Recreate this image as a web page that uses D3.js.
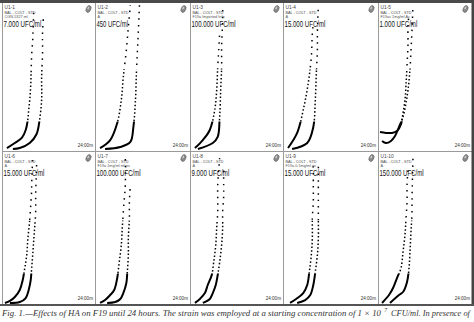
<!DOCTYPE html>
<html><head><meta charset="utf-8">
<script src="https://cdn.jsdelivr.net/npm/d3@7"></script>
<style>
html,body{margin:0;padding:0;background:#fff;}
svg{display:block;}
</style></head><body>
<svg id="c" width="474" height="322"></svg>
<script>
// ---------- data ----------
const panelIds = ["U1-1","U1-2","U1-3","U1-4","U1-5","U1-6","U1-7","U1-8","U1-9","U1-10"];
const panelSubtitle = "BAL - COLT - STD";
const panelNotes = ["CGN-5327 ml","A","F19a Imported Info","A","F19ac 1mg/ml Ac","A","F19a 1mg/ml ml ps","A","F19a 0.1mg/ml ps","A"];
const panelLabels = ["7.000 UFC/ml","450 UFC/ml","100.000 UFC/ml","15.000 UFC/ml","1.000 UFC/ml",
                     "15.000 UFC/ml","100.000 UFC/ml","9.000 UFC/ml","15.000 UFC/ml","150.000 UFC/ml"];
const timeLabel = "24:00m";
// curve points per panel: [signal (0-100), growth (0-100)]
const innerCurves = [
  [[5.3,2],[13.8,5.4],[21.3,8.8],[25.5,14.2],[27.7,21],[28.7,27.7],[29.8,34.5],[30.9,44.6],[31.4,54.7],[31.9,64.9],[33,75],[33.5,83.1],[34,93.9]],
  [[5.3,2],[16,7.4],[23.4,18.9],[27.7,34.5],[29.8,50],[33,68.2],[35.1,83.8],[37.2,98.6]],
  [[5.3,2],[13.8,7.4],[21.3,14.2],[26.6,27.7],[28.7,41.2],[29.8,56.8],[30.9,68.2],[31.9,79.7]],
  [[5.3,2],[14.9,12.2],[21.3,27.7],[26.6,46],[29.8,63.5],[30.9,79.7],[31.9,85.8]],
  [[2.1,12.8],[8.5,12.2],[14.9,12.2],[20.2,13.5],[24.5,18.2],[26.6,25.7],[28.7,34.5],[29.8,44.6],[30.9,58.1],[31.9,71.6],[31.9,85.1],[33,91.9]],
  [[3.2,0.7],[8.5,2],[13.8,4.6],[19.1,9.2],[22.3,15.8],[24.5,23.7],[26.6,32.2],[27.7,42.1],[29.8,55.3],[30.9,65.1],[31.9,75],[31.9,78.3],[33,96.7]],
  [[5.3,0.7],[10.6,2.6],[16,5.9],[20.2,9.2],[23.4,17.1],[25.5,27.6],[27.7,38.8],[28.7,50],[29.8,60.5],[30.9,69.7],[31.9,78.3],[31.9,96.7]],
  [[5.3,0.7],[10.6,3.3],[16,7.2],[19.1,12.5],[23.4,19.1],[25.5,27.6],[27.7,38.8],[28.7,50],[29.8,60.5],[29.8,69.7],[29.8,78.3],[31.9,96]],
  [[7.4,0.7],[13.8,3.3],[21.3,7.2],[25.5,12.5],[27.7,21.1],[29.8,32.2],[30.9,43.4],[30.9,56.6],[31.9,67.1],[31.9,78.3],[31.9,92.8]],
  [[4.3,0.7],[11.7,5.9],[16,10.5],[20.2,17.1],[24.5,23.7],[26.6,34.2],[28.7,45.4],[29.8,56.6],[30.9,67.1],[30.9,78.3],[31.9,88.2]]
];
const outerCurves = [
  [[11.7,1.4],[19.1,2],[29.8,5.4],[37.2,11.5],[40.4,21],[42.6,34.5],[42.6,50],[43.6,66.2],[43.6,79.7],[44.7,91.9]],
  [[10.6,1.4],[26.6,2.7],[37.2,6.1],[40.4,16.2],[42.6,34.5],[43.6,52.7],[44.7,68.2],[45.7,81.8],[46.8,98.6]],
  [[8.5,1.4],[24.5,5.4],[29.8,9.5],[31.9,23],[33,41.2],[34,56.8],[34,70.3],[35.1,88.5],[35.1,98]],
  [[9.6,1.4],[25.5,5.4],[31.9,16.2],[34,34.5],[35.1,52.7],[36.2,68.2],[36.2,79.7],[37.2,98.6]],
  [[4.3,6.8],[8.5,5.4],[13.8,6.8],[18.1,10.1],[22.3,16.2],[26.6,23],[29.8,32.4],[31.9,41.2],[34,54.7],[35.1,68.2],[36.2,81.8],[37.2,98.6]],
  [[8.5,0.7],[19.1,1.3],[25.5,3.9],[28.7,9.2],[30.9,15.8],[31.9,23.7],[33,32.2],[34,40.8],[35.1,50],[36.2,60.5],[36.2,71.7],[37.2,91.4]],
  [[12.8,0.7],[21.3,1.3],[26.6,3.3],[29.8,7.2],[33,13.8],[34,21.1],[35.1,32.2],[35.1,43.4],[36.2,56.6],[36.2,67.1],[37.2,78.3]],
  [[13.8,0.7],[21.3,3.3],[24.5,7.2],[27.7,12.5],[29.8,19.1],[31.9,27.6],[34,38.8],[35.1,50],[35.1,60.5],[36.2,70.4],[36.2,78.3],[36.2,90.8]],
  [[14.9,0.7],[23.4,2.6],[28.7,5.9],[31.9,12.5],[34,21.1],[36.2,32.2],[37.2,43.4],[37.2,56.6],[37.2,66.4],[37.2,78.3],[37.2,92.8]],
  [[12.8,0.7],[22.3,5.9],[26.6,7.9],[30.9,14.5],[33,23.7],[34,34.2],[35.1,47.4],[36.2,60.5],[36.2,68.4],[37.2,96]]
];
const captionHead = "Fig. 1.\u2014Effects of HA on F19 until 24 hours. The strain was employed at a starting concentration of 1 \u00d7 10";
const captionExp = "7";
const captionTail = "CFU/ml. In presence of";

// ---------- layout ----------
const W = 474, H = 322;
const colEdges = [2, 95, 190, 283, 378, 472];
const rowEdges = [[3, 151], [152, 304]];
const bands = [
  {lo: 0,  hi: 20,  dash: null,      w: 2.0},
  {lo: 20, hi: 55,  dash: "1.5 2.2", w: 1.5},
  {lo: 55, hi: 100, dash: "1.5 5",   w: 1.5}
];

const svg = d3.select("#c");
const defs = svg.append("defs");
svg.append("rect").attr("width", W).attr("height", H).attr("fill", "#fff");

panelIds.forEach((id, i) => {
  const c = i % 5, r = Math.floor(i / 5);
  const x0 = colEdges[c], x1 = colEdges[c + 1];
  const y0 = rowEdges[r][0], y1 = rowEdges[r][1];
  const x = d3.scaleLinear().domain([0, 100]).range([x0, x1]);
  const y = d3.scaleLinear().domain([0, 100]).range([y1, y0]);
  const line = d3.line().x(d => x(d[0])).y(d => y(d[1])).curve(d3.curveCatmullRom.alpha(0.5));
  const g = svg.append("g");

  bands.forEach((b, bi) => {
    const cid = `cl${i}_${bi}`;
    defs.append("clipPath").attr("id", cid).append("rect")
      .attr("x", x0).attr("width", x1 - x0)
      .attr("y", y(b.hi)).attr("height", y(b.lo) - y(b.hi));
    [innerCurves[i], outerCurves[i]].forEach(pts => {
      g.append("path").attr("d", line(pts))
        .attr("clip-path", `url(#${cid})`)
        .attr("fill", "none").attr("stroke", "#000")
        .attr("stroke-width", b.w)
        .attr("stroke-dasharray", b.dash);
    });
  });

  // header texts
  g.append("text").attr("x", x0 + 2.5).attr("y", y0 + 5.5)
    .attr("font-family", "Liberation Sans, sans-serif").attr("font-size", 4.8)
    .attr("fill", "#444").text(id);
  g.append("text").attr("x", x0 + 2.5).attr("y", y0 + 10.5)
    .attr("font-family", "Liberation Sans, sans-serif").attr("font-size", 4.4)
    .attr("fill", "#444").attr("textLength", 31).attr("lengthAdjust", "spacingAndGlyphs")
    .text(panelSubtitle);
  g.append("text").attr("x", x0 + 2.5).attr("y", y0 + 14.8)
    .attr("font-family", "Liberation Sans, sans-serif").attr("font-size", 3.8)
    .attr("fill", "#555").text(panelNotes[i]);
  const lab = panelLabels[i];
  g.append("text").attr("x", x0 + 1.5).attr("y", y0 + 23.5)
    .attr("font-family", "Liberation Sans Narrow, Liberation Sans, sans-serif").attr("font-size", 9.5)
    .attr("fill", "#111").attr("textLength", lab.length * 3.15).attr("lengthAdjust", "spacingAndGlyphs")
    .text(lab);

  // time label
  g.append("text").attr("x", x1 - 2).attr("y", y1 - 4.5)
    .attr("text-anchor", "end")
    .attr("font-family", "Liberation Sans, sans-serif").attr("font-size", 4.6)
    .attr("fill", "#333").text(timeLabel);

  // small flask icon top-right
  const ic = g.append("g").attr("transform", `translate(${x1 - 6.5},${y0 + 6}) rotate(25)`);
  ic.append("ellipse").attr("rx", 2.3).attr("ry", 3.6).attr("fill", "#8a8a8a").attr("stroke", "#5a5a5a").attr("stroke-width", 0.5);
  ic.append("ellipse").attr("cx", -0.6).attr("cy", -0.8).attr("rx", 0.8).attr("ry", 1.4).attr("fill", "#d0d0d0");
});

// grid separators
colEdges.slice(0, 5).forEach(cx => {
  svg.append("line").attr("x1", cx + 0.5).attr("x2", cx + 0.5).attr("y1", 3).attr("y2", 304)
    .attr("stroke", "#9a9a9a").attr("stroke-width", 1);
});
svg.append("line").attr("x1", 2).attr("x2", 472).attr("y1", 151.5).attr("y2", 151.5)
  .attr("stroke", "#9a9a9a").attr("stroke-width", 1);

// frame
svg.append("rect").attr("x", 0).attr("y", 0).attr("width", W).attr("height", 3).attr("fill", "#4a4a4a");
svg.append("rect").attr("x", 471.5).attr("y", 0).attr("width", 2.5).attr("height", 306).attr("fill", "#444");
svg.append("rect").attr("x", 0).attr("y", 304).attr("width", W).attr("height", 2).attr("fill", "#555");

// caption: three pieces, each horizontally scaled to its measured width
function capPiece(str, x0, yBase, size, targetW) {
  const g = svg.append("g");
  const t = g.append("text").attr("x", 0).attr("y", 0)
    .attr("font-family", "Liberation Serif, serif").attr("font-style", "italic")
    .attr("font-size", size).attr("fill", "#333").text(str);
  const natural = t.node().getComputedTextLength();
  const sx = targetW ? targetW / natural : 1;
  g.attr("transform", `translate(${x0},${yBase}) scale(${sx},1)`);
}
capPiece(captionHead, 2, 316, 9.2, 379);
capPiece(captionExp, 384.2, 312.3, 5.8, null);
capPiece(captionTail, 391, 316, 9.2, 79);
</script>
</body></html>
